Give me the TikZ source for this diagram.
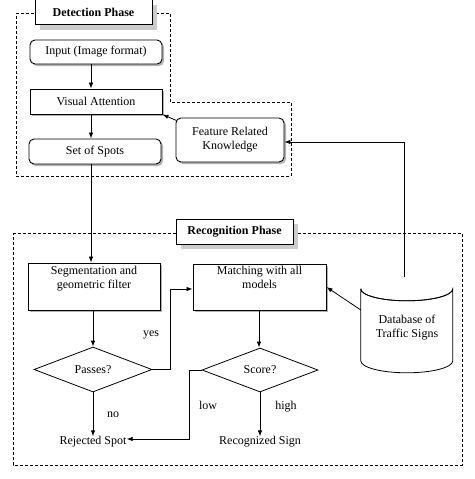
\documentclass[tikz,border=0pt]{standalone}
\usepackage{fontspec}
\setmainfont{Liberation Serif}
\usetikzlibrary{shapes.geometric,arrows.meta,shadows}
\begin{document}
\begin{tikzpicture}[x=1pt,y=-1pt,
  every node/.style={font=\fontsize{12}{14}\selectfont, align=center, inner sep=0pt},
  box/.style={draw, line width=0.9pt, fill=white, drop shadow={shadow xshift=2pt, shadow yshift=-2pt, fill=gray!60, opacity=1}},
  rbox/.style={box, rounded corners=5pt},
  title/.style={draw, line width=0.9pt, fill=white, font=\bfseries\fontsize{12}{14}\selectfont, drop shadow={shadow xshift=5pt, shadow yshift=-5pt, fill=gray!40, opacity=1}},
  dec/.style={draw, diamond, line width=0.8pt, aspect=2.6},
  arr/.style={-{Latex[length=6pt,width=4.5pt]}, line width=0.8pt},
  region/.style={dash pattern=on 3pt off 2pt, line width=0.7pt}]
\useasboundingbox (0,0) rectangle (474,479);
% detection region
\draw[region] (16,13) -- (170,13) -- (170,102) -- (291,102) -- (291,176) -- (16,176) -- cycle;
\node[title, minimum width=117pt, minimum height=25pt] (dp) at (93.5,12) {Detection Phase};
\node[rbox, minimum width=132pt, minimum height=24pt] (in) at (96,52) {Input (Image format)};
\node[box, minimum width=132pt, minimum height=25pt] (va) at (96,101.5) {Visual Attention};
\node[rbox, minimum width=132pt, minimum height=25pt] (ss) at (95,151.5) {Set of Spots};
\node[rbox, minimum width=108pt, minimum height=44pt] (fk) at (230,140) {Feature Related\\Knowledge};
% recognition region
\draw[region] (13,233) -- (462,233) -- (462,465) -- (13,465) -- cycle;
\node[title, minimum width=117pt, minimum height=25pt] (rp) at (234.5,231.5) {Recognition Phase};
\node[box, minimum width=132pt, minimum height=47pt] (sg) at (94,286.5) {Segmentation and\\geometric filter\\[0.4em]};
\node[box, minimum width=133pt, minimum height=46pt] (mt) at (259.5,287) {Matching with all\\models\\[0.4em]};
\node[dec, minimum width=118pt, minimum height=45pt] (ps) at (93,369.5) {Passes?};
\node[dec, minimum width=116pt, minimum height=44pt] (sc) at (260,370) {Score?};
\node (rj) at (93,442) {Rejected Spot};
\node (rs) at (260,442) {Recognized Sign};
% database cylinder
\node[minimum width=92pt, minimum height=96pt] (db) at (407,325) {};
\draw[line width=0.8pt, fill=white] (db.north west) ++(0,12) -- ++(0,72)
  arc[start angle=180, end angle=360, x radius=46pt, y radius=12pt] -- ++(0,-72)
  arc[start angle=0, end angle=180, x radius=46pt, y radius=-12pt];
\draw[line width=0.8pt] (db.north west) ++(0,12) arc[start angle=180, end angle=360, x radius=46pt, y radius=12pt];
\node at (407,328) {Database of\\Traffic Signs};
% connectors
\draw[arr] (in.south -| 91,0) -- (va.north -| 91,0);
\draw[arr] (va.south -| 91,0) -- (ss.north -| 91,0);
\draw[arr] (ss.south -| 91,0) -- (sg.north -| 91,0);
\draw[arr] (fk.north west) ++(1,3) -- (va.south east);
\draw[arr] (db.north -| 404,0) -- (404,142) -- (fk.east |- 0,142);
\draw[arr] (sg.south -| 93,0) -- (ps.north);
\draw[arr] (ps.south) -- (rj.north -| 93,0);
\draw[arr] (ps.east) -- (170,369.5) -- (170,289) -- (mt.west |- 0,289);
\draw[arr] (mt.south -| 259,0) -- (sc.north -| 259,0);
\draw[arr] (sc.south) -- (rs.north -| 260,0);
\draw[arr] (sc.west) -- (189,370) -- (189,439) -- (rj.east |- 0,439);
\draw[arr] (db.west |- 0,310) -- (mt.east |- 0,287);
\node at (151,335) {yes};
\node at (113,415) {no};
\node at (208,405) {low};
\node at (286,407) {high};
\end{tikzpicture}
\end{document}
